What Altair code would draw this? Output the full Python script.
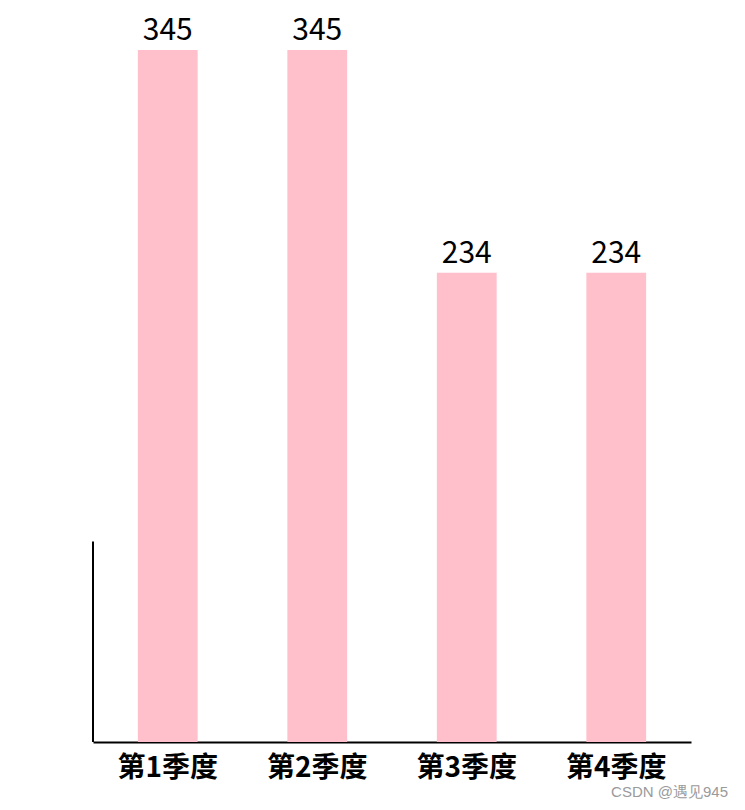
import altair as alt
import pandas as pd

categories = ["第1季度", "第2季度", "第3季度", "第4季度"]
values = [345, 345, 234, 234]
axis_extent = [0, 100]
y_max = 365

df = pd.DataFrame({"quarter": categories, "value": values})
axis_df = pd.DataFrame({"y0": [axis_extent[0]], "y1": [axis_extent[1]]})

FONT = "Noto Sans CJK SC"

x_enc = alt.X(
    "quarter:N",
    sort=categories,
    scale=alt.Scale(paddingInner=0.6, paddingOuter=0.3),
    axis=alt.Axis(
        title=None,
        labelAngle=0,
        ticks=False,
        domainColor="black",
        domainWidth=2,
        labelFont=FONT,
        labelFontSize=28,
        labelFontWeight="bold",
        labelColor="black",
        labelPadding=12,
        grid=False,
    ),
)
y_scale = alt.Scale(domain=[0, y_max], nice=False, zero=True)

bars = alt.Chart(df).mark_bar(color="#FFC0CB").encode(
    x=x_enc,
    y=alt.Y("value:Q", scale=y_scale, axis=None),
)

labels = alt.Chart(df).mark_text(
    font=FONT, fontSize=30, color="black", baseline="alphabetic", dy=-10
).encode(
    x=alt.X("quarter:N", sort=categories),
    y=alt.Y("value:Q", scale=y_scale),
    text="value:Q",
)

yline = alt.Chart(axis_df).mark_rule(color="black", strokeWidth=2).encode(
    x=alt.value(0),
    y=alt.Y("y0:Q", scale=y_scale),
    y2="y1:Q",
)

chart = alt.layer(bars, labels, yline).properties(
    width=598,
    height=732,
    autosize=alt.AutoSizeParams(type="none"),
    padding={"left": 85, "top": 2, "right": 46, "bottom": 62},
    title=alt.TitleParams(
        text="CSDN @遇见945",
        orient="bottom",
        anchor="end",
        fontSize=15,
        fontWeight="normal",
        color="#9a9a9a",
        font="Liberation Sans",
        offset=3,
        dx=37,
    ),
).configure_view(stroke=None)

chart.save("out.html", embed_options={"renderer": "svg", "actions": False})
